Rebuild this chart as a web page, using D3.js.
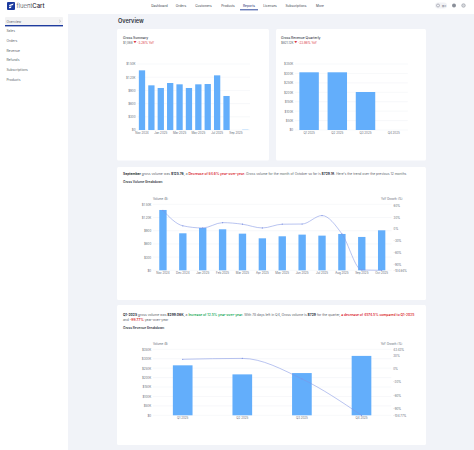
<!DOCTYPE html>
<html>
<head>
<meta charset="utf-8">
<script src="https://cdn.jsdelivr.net/npm/d3@7"></script>
<style>
  html, body { margin: 0; padding: 0; background: #f1f3f8; overflow: hidden; }
  svg { display: block; font-family: Inter, "Open Sans", sans-serif; }
  .axis path, .axis line { display: none; }
  .axis text { font-size: 2.9px; fill: #666c78; font-family: Inter, sans-serif; }
  .grid line { stroke: #eef0f4; stroke-width: 0.5; }
</style>
</head>
<body>
<svg id="page" width="474" height="450"></svg>
<script>
'use strict';
const navItems = ['Dashboard', 'Orders', 'Customers', 'Products', 'Reports', 'Licenses', 'Subscriptions', 'More'];
const navX = [159.5, 181, 203.5, 228, 249, 270, 296, 320];
const sideItems = ['Overview', 'Sales', 'Orders', 'Revenue', 'Refunds', 'Subscriptions', 'Products'];

// gross summary
const months = ['Nov 2024', 'Dec 2024', 'Jan 2025', 'Feb 2025', 'Mar 2025', 'Apr 2025', 'May 2025', 'Jun 2025', 'Jul 2025', 'Aug 2025', 'Sep 2025', 'Oct 2025'];
const summaryValues = [1356, 1015, 955, 1068, 1038, 955, 1038, 1045, 1242, 773, 0, 6];
const summaryTicks = [0, 300, 600, 900, 1200, 1500];
const summaryLabels = ['$0', '$300', '$600', '$900', '$1.20K', '$1.50K'];
const summaryShown = ['Nov 2024', 'Jan 2025', 'Mar 2025', 'May 2025', 'Jul 2025', 'Sep 2025'];

// gross revenue quarterly
const quarters = ['Q1 2025', 'Q2 2025', 'Q3 2025', 'Q4 2025'];
const quarterValues = [306000, 306000, 201500, 0];
const quarterTicks = [0, 50000, 100000, 150000, 200000, 250000, 300000, 350000];
const quarterLabels = ['$0', '$50K', '$100K', '$150K', '$200K', '$250K', '$300K', '$350K'];

// volume breakdown
const volumeValues = [1371, 841, 962, 932, 833, 727, 773, 811, 788, 826, 758, 909];
const volumeGrowth = [47, 8, 2.5, 16, 12, 2.5, 12, 12.5, 34, -12.5, -104, -104.84];
const growthTicks = [-104.84, -90, -60, -30, 0, 30, 60];
const growthLabels = ['-104.84%', '-90%', '-60%', '-30%', '0%', '30%', '60%'];

// revenue breakdown
const revenueValues = [265000, 217000, 224000, 315000];
const revenueGrowth = [21, 23, -23, -104.77];
const revGrowthTicks = [-104.77, -90, -60, -30, 0, 30, 43.43];
const revGrowthLabels = ['-104.77%', '-90%', '-60%', '-30%', '0%', '30%', '43.43%'];

const svg = d3.select('#page');
const BAR = '#63aefb';
const LINE = '#7f93e4';

// text: one svg text element, made of [string, color, weight] runs
const text = function (x, y, runs, size, anchor) {
  const t = svg.append('text').attr('x', x).attr('y', y)
    .attr('font-size', size).attr('text-anchor', anchor || 'start');
  t.selectAll('tspan').data(runs).join('tspan')
    .text(d => d[0])
    .attr('fill', d => d[1] || '#5a5f6a')
    .attr('font-weight', d => d[2] || 400);
};

const rect = function (x, y, w, h, fill, r) {
  return svg.append('rect').attr('x', x).attr('y', y).attr('width', w).attr('height', h)
    .attr('fill', fill).attr('rx', r || 0);
};

// page chrome
rect(0, 0, 68, 450, '#fff');
rect(0, 0, 474, 14, '#fff');
rect(7, 2, 8, 8, '#1b3a9e', 1);
svg.append('path').attr('d', 'M9 5 L13.5 3.6 L13 5 L9.5 6.2 Z M9 7 L11.5 6.2 L11 8 L9 8.3 Z').attr('fill', '#fff');
text(16.5, 8.3, [['fluent', '#333a47', 300], ['Cart', '#1f2530', 500]], 6);
navItems.forEach((d, i) => text(navX[i], 7, [[d, i === 4 ? '#3a4a80' : '#5a5f6a', 500]], 3.2, 'middle'));
rect(240, 9.3, 18, 1, '#2f4a9e');
rect(435, 2.5, 12, 6, '#f1f2f5', 3);
svg.append('circle').attr('cx', 438).attr('cy', 5.5).attr('r', 1.5).attr('fill', 'none').attr('stroke', '#667').attr('stroke-width', 0.4);
text(444, 6.6, [['⌘K', '#667']], 2.6, 'middle');
rect(452, 3.5, 4, 4, '#8a8f99', 2);
svg.append('circle').attr('cx', 463.5).attr('cy', 5.5).attr('r', 1.8).attr('fill', '#d5d7dc').attr('stroke', '#8a8f99').attr('stroke-width', 0.5);

rect(5, 17, 58, 8, '#f3f3f4', 1);
rect(5, 25, 58, 1.4, '#1f3c9e');
const sideY = [22.5, 32, 41.7, 51.5, 61.2, 71, 80.7];
sideItems.forEach((d, i) => text(6.5, sideY[i], [[d, '#5a5f6a']], 3.3));
svg.append('path').attr('d', 'M59.3 20 L60.6 21.2 L59.3 22.4').attr('fill', 'none').attr('stroke', '#777').attr('stroke-width', 0.4);
text(118, 23.3, [['Overview', '#2c3038', 600]], 5.6);

// cards
rect(117, 29, 152, 131.5, '#fff', 1.5);
rect(276, 29, 150, 131.5, '#fff', 1.5);
rect(117, 167, 309, 133, '#fff', 1.5);
rect(117, 305, 309, 140, '#fff', 1.5);

text(123, 38.7, [['Gross Summary', '#33373f', 500]], 3.3);
text(123, 43.6, [['$1,068', '#5a5f6a'], [' ▼ -3.26% YoY', '#d9363e']], 3);
text(281, 38.7, [['Gross Revenue Quarterly', '#33373f', 500]], 3.3);
text(281, 43.6, [['$821.12K', '#5a5f6a'], [' ▼ -23.98% YoY', '#d9363e']], 3);

text(123, 175.3, [
  ['September', '#33373f', 700], [' gross volume was '], ['$125.76', '#33373f', 700], [', a '],
  ['Decrease of 84.6% year-over-year', '#d9262e', 600],
  ['. Gross volume for the month of October so far is '], ['$729.18', '#33373f', 700],
  ['. Here\'s the trend over the previous 12 months']], 3.32);
text(123, 183.2, [['Gross Volume Breakdown', '#33373f', 600]], 3.2);

text(123, 316, [
  ['Q1-2025', '#33373f', 700], [' gross volume was '], ['$299.06K', '#33373f', 700], [', a '],
  ['Increase of 12.5% year-over-year', '#18a957', 600],
  ['. With 78 days left in Q4, Gross volume is '], ['$729', '#33373f', 700], [' for the quarter, '],
  ['a decrease of 4574.5% compared to Q1-2025', '#d9262e', 600]], 3.34);
text(123, 321, [['and '], ['-99.77%', '#d9262e', 600], [' year-over-year']], 3.34);
text(123, 329, [['Gross Revenue Breakdown', '#33373f', 600]], 3.2);

// barChart: draws gridlines, bars and both axes for one panel, plus optional growth line
const barChart = function (o) {
  const x = d3.scaleBand().domain(o.cats).range(o.xRange).paddingInner(o.pad).paddingOuter(o.pad / 2);
  const y = d3.scaleLinear().domain([0, d3.max(o.ticks)]).range(o.yRange);
  const g = svg.append('g');
  g.append('g').attr('class', 'grid').selectAll('line').data(o.ticks).join('line')
    .attr('x1', o.xRange[0]).attr('x2', o.xRange[1])
    .attr('y1', d => y(d)).attr('y2', d => y(d));
  g.selectAll('rect.bar').data(o.values).join('rect')
    .attr('class', 'bar')
    .attr('x', (d, i) => x(o.cats[i]))
    .attr('y', d => y(d))
    .attr('width', x.bandwidth())
    .attr('height', d => y(0) - y(d))
    .attr('fill', BAR);
  g.append('g').attr('class', 'axis').attr('transform', `translate(${o.xRange[0]},0)`)
    .call(d3.axisLeft(y).tickValues(o.ticks).tickSize(0).tickPadding(1.8)
      .tickFormat((d, i) => o.labels[i]));
  g.append('g').attr('class', 'axis').attr('transform', `translate(0,${o.yRange[0]})`)
    .call(d3.axisBottom(x).tickValues(o.shown || o.cats).tickSize(0).tickPadding(1.6));
  if (o.growth) {
    const yr = d3.scaleLinear().domain(o.growthDomain).range(o.yRange);
    const line = d3.line()
      .x((d, i) => x(o.cats[i]) + x.bandwidth() / 2)
      .y(d => yr(d))
      .curve(d3.curveMonotoneX);
    g.append('path').attr('d', line(o.growth))
      .attr('fill', 'none').attr('stroke', LINE).attr('stroke-width', 0.55);
    g.selectAll('circle').data(o.growth).join('circle')
      .attr('cx', (d, i) => x(o.cats[i]) + x.bandwidth() / 2)
      .attr('cy', d => yr(d))
      .attr('r', 0.6)
      .attr('fill', LINE);
    g.append('g').attr('class', 'axis').attr('transform', `translate(${o.xRange[1]},0)`)
      .call(d3.axisRight(yr).tickValues(o.growthTicks).tickSize(0).tickPadding(2)
        .tickFormat((d, i) => o.growthLabels[i]));
    text(o.xRange[0], o.yRange[1] - 4.5, [['Volume ($)', '#666c78']], 2.9);
    text(o.xRange[1] + 11, o.yRange[1] - 4.5, [['YoY Growth (%)', '#666c78']], 2.9, 'end');
  }
};

barChart({
  cats: months, values: summaryValues, ticks: summaryTicks, labels: summaryLabels, shown: summaryShown,
  xRange: [137.3, 250], yRange: [130, 64], pad: 0.33,
});
barChart({
  cats: quarters, values: quarterValues, ticks: quarterTicks, labels: quarterLabels,
  xRange: [295, 407.8], yRange: [130, 64], pad: 0.31,
});
barChart({
  cats: months, values: volumeValues, ticks: summaryTicks, labels: summaryLabels,
  xRange: [153, 391.6], yRange: [270.3, 204.3], pad: 0.63,
  growth: volumeGrowth, growthDomain: [-104.84, 62.5], growthTicks: growthTicks, growthLabels: growthLabels,
});
barChart({
  cats: quarters, values: revenueValues, ticks: quarterTicks, labels: quarterLabels,
  xRange: [152.9, 391.3], yRange: [415.3, 349.3], pad: 0.67,
  growth: revenueGrowth, growthDomain: [-104.77, 43.43], growthTicks: revGrowthTicks, growthLabels: revGrowthLabels,
});
</script>
</body>
</html>
